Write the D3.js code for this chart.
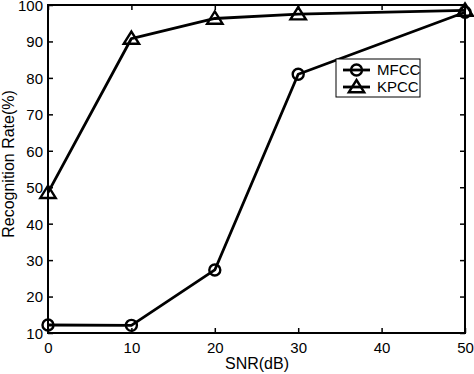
<!DOCTYPE html>
<html><head><meta charset="utf-8">
<script src="https://cdn.jsdelivr.net/npm/d3@7"></script>
<style>body{margin:0;background:#fff}svg{display:block}text{font-family:"Liberation Sans",Arial,sans-serif;fill:#000}</style>
</head><body><svg id="c" width="474" height="374"></svg>
<script>
const snr = [0, 10, 20, 30, 50];
const mfcc = [12.2, 12.1, 27.3, 81.0, 98.0];
const kpcc = [48.5, 90.8, 96.3, 97.5, 98.5];
const xTicks = [0, 10, 20, 30, 40, 50];
const yTicks = [10, 20, 30, 40, 50, 60, 70, 80, 90, 100];
const seriesNames = ["MFCC", "KPCC"];

const svg = d3.select("#c");
const L = 48, R = 465, T = 5, B = 333;
const x = d3.scaleLinear().domain([0, 50]).range([L, R]);
const y = d3.scaleLinear().domain([10, 100]).range([B, T]);
const tk = 5;

const g = svg.append("g");
g.append("rect").attr("x", L).attr("y", T).attr("width", R - L).attr("height", B - T)
  .attr("fill", "none").attr("stroke", "#000").attr("stroke-width", 2);

const xb = g.append("g").attr("transform", `translate(0,${B})`)
  .call(d3.axisBottom(x).tickValues(xTicks).tickSizeInner(-tk).tickSizeOuter(0).tickPadding(9));
const xt = g.append("g").attr("transform", `translate(0,${T})`)
  .call(d3.axisTop(x).tickValues(xTicks).tickSizeInner(-tk).tickSizeOuter(0).tickFormat(""));
const yl = g.append("g").attr("transform", `translate(${L},0)`)
  .call(d3.axisLeft(y).tickValues(yTicks).tickSizeInner(-tk).tickSizeOuter(0).tickPadding(5));
const yr = g.append("g").attr("transform", `translate(${R},0)`)
  .call(d3.axisRight(y).tickValues(yTicks).tickSizeInner(-tk).tickSizeOuter(0).tickFormat(""));
[xb, xt, yl, yr].forEach(a => {
  a.select(".domain").remove();
  a.selectAll("line").attr("stroke", "#000").attr("stroke-width", 1.5);
  a.selectAll("text").style("font-size", "15px").style("font-family", '"Liberation Sans",Arial,sans-serif').attr("fill", "#000");
});
xb.selectAll("text").attr("dy", "0.71em");
yl.selectAll("text").attr("dy", "0.36em");

svg.append("text").attr("x", 257).attr("y", 369).attr("text-anchor", "middle")
  .style("font-size", "16px").text("SNR(dB)");
svg.append("text").attr("transform", `translate(14,164) rotate(-90)`)
  .attr("text-anchor", "middle").style("font-size", "16px").text("Recognition Rate(%)");

const line = d3.line().x((d, i) => x(snr[i])).y(d => y(d));
const triPath = (cx, cy, s) => `M${cx},${cy - s}L${cx + s * 1.1},${cy + s * 0.75}L${cx - s * 1.1},${cy + s * 0.75}Z`;

function drawSeries(vals, type) {
  g.append("path").datum(vals).attr("d", line).attr("fill", "none")
    .attr("stroke", "#000").attr("stroke-width", 2.8).attr("stroke-linejoin", "round");
  vals.forEach((v, i) => {
    if (type === "circle") {
      g.append("circle").attr("cx", x(snr[i])).attr("cy", y(v)).attr("r", 5.5)
        .attr("fill", "none").attr("stroke", "#000").attr("stroke-width", 2.4);
    } else {
      g.append("path").attr("d", triPath(x(snr[i]), y(v), 7))
        .attr("fill", "none").attr("stroke", "#000").attr("stroke-width", 2.4);
    }
  });
}
drawSeries(mfcc, "circle");
drawSeries(kpcc, "tri");

const lg = svg.append("g");
lg.append("rect").attr("x", 336).attr("y", 59).attr("width", 84).attr("height", 38)
  .attr("fill", "#fff").attr("stroke", "#000").attr("stroke-width", 1);
seriesNames.forEach((n, i) => {
  const cy = 70 + i * 17;
  lg.append("line").attr("x1", 343).attr("x2", 370).attr("y1", cy).attr("y2", cy)
    .attr("stroke", "#000").attr("stroke-width", 2.8);
  if (i === 0) lg.append("circle").attr("cx", 356.5).attr("cy", cy).attr("r", 5.5)
    .attr("fill", "none").attr("stroke", "#000").attr("stroke-width", 2.4);
  else lg.append("path").attr("d", triPath(356.5, cy, 7)).attr("fill", "none")
    .attr("stroke", "#000").attr("stroke-width", 2.4);
  lg.append("text").attr("x", 377).attr("y", cy + 5).style("font-size", "15px").text(n);
});
</script></body></html>
